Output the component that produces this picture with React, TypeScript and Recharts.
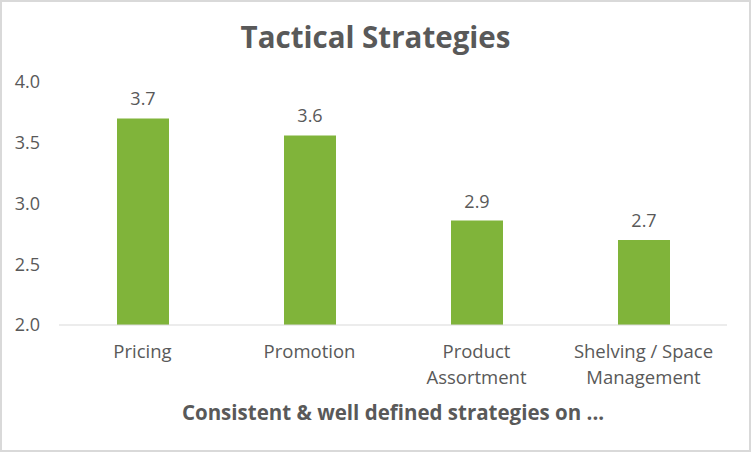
import { Bar, BarChart, LabelList, XAxis, YAxis } from "recharts"

const categories = ["Pricing", "Promotion", "Product Assortment", "Shelving / Space Management"]
const tickLines = [["Pricing"], ["Promotion"], ["Product", "Assortment"], ["Shelving / Space", "Management"]]
const scores = [3.7, 3.56, 2.86, 2.7]
const yTicks = [2.0, 2.5, 3.0, 3.5, 4.0]

const data = categories.map((name, i) => ({ name, score: scores[i] }))

const FONT = "'Open Sans', sans-serif"
const TEXT = "#595959"

function CategoryTick(props: any) {
  const { x, y, payload } = props
  const lines = tickLines[payload.index] ?? [payload.value]
  return (
    <text x={x} y={y} textAnchor="middle" fill={TEXT} fontSize={18.5} fontFamily={FONT}>
      {lines.map((l, i) => (
        <tspan key={i} x={x} dy={i === 0 ? 25 : 26}>
          {l}
        </tspan>
      ))}
    </text>
  )
}

export default function App() {
  return (
    <div style={{ position: "absolute", left: 0, top: 0, width: 751, height: 452, background: "#fff" }}>
      <BarChart
        width={751}
        height={452}
        data={data}
        margin={{ top: 82, right: 24, left: 0, bottom: 0 }}
        barCategoryGap="34%"
      >
        <text
          x={375.5}
          y={48}
          textAnchor="middle"
          fill={TEXT}
          fontSize={29.5}
          fontWeight="bold"
          fontFamily={FONT}
        >
          Tactical Strategies
        </text>
        <XAxis
          dataKey="name"
          interval={0}
          tick={<CategoryTick />}
          tickLine={false}
          axisLine={{ stroke: "#d9d9d9" }}
          height={127}
        />
        <YAxis
          domain={[2, 4]}
          ticks={yTicks}
          width={59}
          axisLine={false}
          tickLine={false}
          tickSize={0}
          tickMargin={19}
          tickFormatter={(v) => v.toFixed(1)}
          tick={{ fill: TEXT, fontSize: 18, fontFamily: FONT }}
        />
        <Bar dataKey="score" fill="#80b43a" barSize={52} isAnimationActive={false}>
          <LabelList
            dataKey="score"
            position="top"
            offset={13}
            formatter={(v: any) => Number(v).toFixed(1)}
            style={{ fill: TEXT, fontSize: 18, fontFamily: FONT }}
          />
        </Bar>
        <text
          x={393}
          y={420}
          textAnchor="middle"
          fill={TEXT}
          fontSize={20.5}
          fontWeight="bold"
          fontFamily={FONT}
        >
          Consistent &amp; well defined strategies on ...
        </text>
      </BarChart>
      <div
        style={{
          position: "absolute",
          left: 0,
          top: 0,
          width: 751,
          height: 452,
          boxSizing: "border-box",
          border: "2px solid #d9d9d9",
          pointerEvents: "none",
        }}
      />
    </div>
  )
}
